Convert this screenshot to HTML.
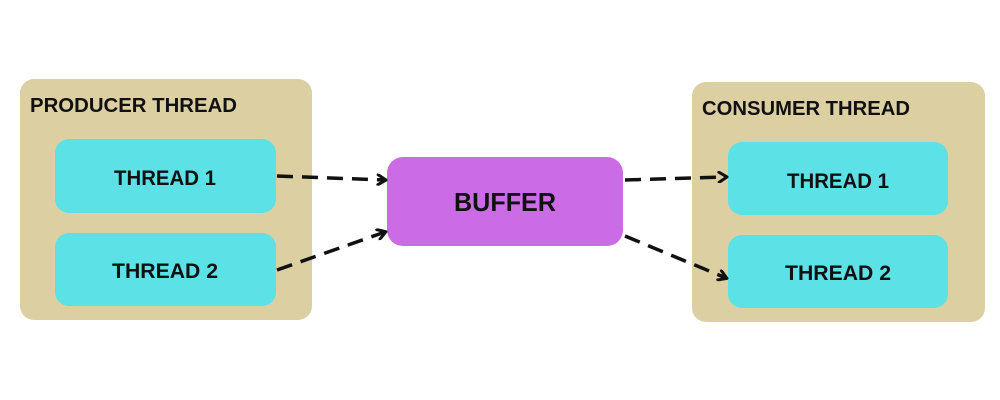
<!DOCTYPE html>
<html><head><style>
html,body{margin:0;padding:0;background:#fff;}
svg{display:block}
text{font-family:"Liberation Sans",sans-serif;font-weight:bold;fill:#111;}
</style></head><body>
<svg width="1000" height="400" viewBox="0 0 1000 400">
<defs><marker id="a" markerWidth="12" markerHeight="12" refX="9" refY="6" orient="auto" markerUnits="userSpaceOnUse">
<path d="M2,1 L10,6 L2,11" fill="none" stroke="#111" stroke-width="3" stroke-linecap="round" stroke-linejoin="round"/></marker></defs>
<rect x="20" y="79" width="292" height="241" rx="14" fill="#dccfa2"/>
<rect x="692" y="82" width="293" height="240" rx="14" fill="#dccfa2"/>
<rect x="55" y="139" width="221" height="74" rx="14" fill="#5ce1e6"/>
<rect x="55" y="233" width="221" height="73" rx="14" fill="#5ce1e6"/>
<rect x="728" y="142" width="220" height="73" rx="14" fill="#5ce1e6"/>
<rect x="728" y="235" width="220" height="73" rx="14" fill="#5ce1e6"/>
<rect x="387" y="157" width="236" height="89" rx="16" fill="#cb6ce6"/>
<text x="30" y="112" font-size="20" textLength="207" lengthAdjust="spacingAndGlyphs">PRODUCER THREAD</text>
<text x="702" y="115" font-size="20" textLength="208" lengthAdjust="spacingAndGlyphs">CONSUMER THREAD</text>
<text x="165" y="185" font-size="21" text-anchor="middle" textLength="102" lengthAdjust="spacingAndGlyphs">THREAD 1</text>
<text x="165" y="278" font-size="21" text-anchor="middle" textLength="106" lengthAdjust="spacingAndGlyphs">THREAD 2</text>
<text x="838" y="188" font-size="21" text-anchor="middle" textLength="102" lengthAdjust="spacingAndGlyphs">THREAD 1</text>
<text x="838" y="280" font-size="21" text-anchor="middle" textLength="106" lengthAdjust="spacingAndGlyphs">THREAD 2</text>
<text x="505" y="211" font-size="26" text-anchor="middle" textLength="102" lengthAdjust="spacingAndGlyphs">BUFFER</text>
<g stroke="#111" stroke-width="3.5" stroke-dasharray="16,9" fill="none" marker-end="url(#a)">
<line x1="277" y1="176" x2="385" y2="180"/>
<line x1="277" y1="270" x2="385" y2="232"/>
<line x1="625" y1="180" x2="726" y2="177"/>
<line x1="625" y1="236" x2="726" y2="278"/>
</g>
</svg>
</body></html>
